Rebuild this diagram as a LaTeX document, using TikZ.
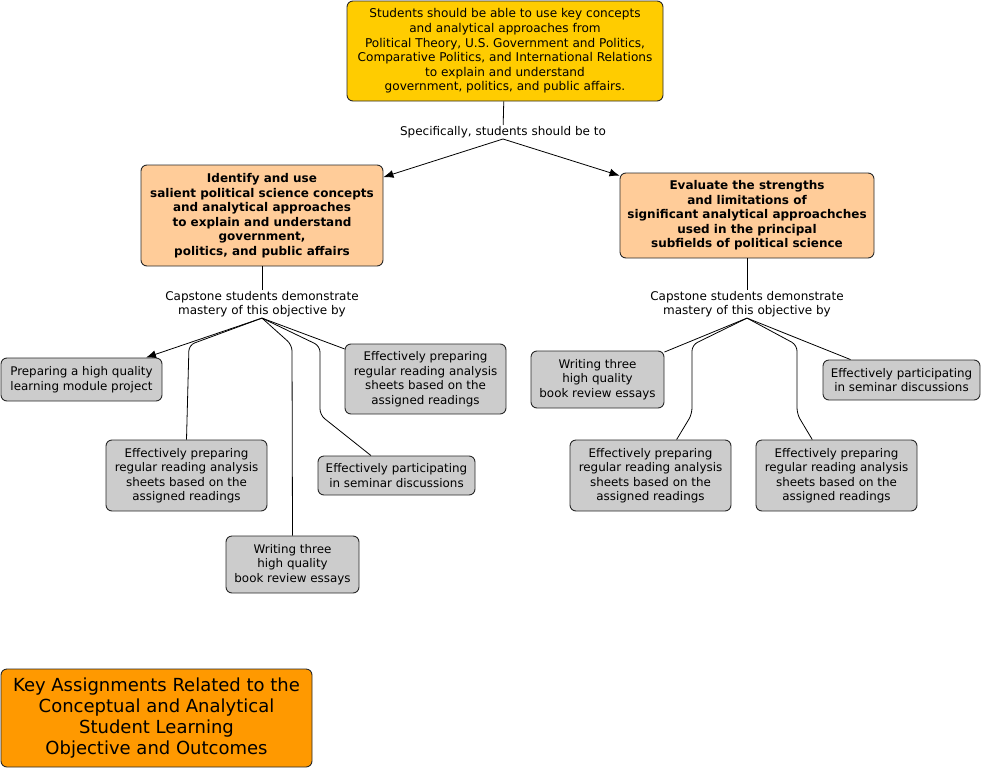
\documentclass[tikz,border=0pt]{standalone}
\usepackage{fontspec}
\setmainfont{DejaVu Sans}
\usetikzlibrary{arrows.meta,positioning}
\definecolor{goldbox}{RGB}{255,204,0}
\definecolor{peachbox}{RGB}{255,204,153}
\definecolor{graybox}{RGB}{204,204,204}
\definecolor{orangebox}{RGB}{255,153,0}
\definecolor{edgegray}{RGB}{40,40,40}
\tikzset{
  concept/.style={rectangle, rounded corners=6pt, draw=edgegray, line width=0.9pt,
                  align=center, inner sep=2pt, font=\fontsize{11.9}{14.5}\selectfont},
  goalbox/.style={concept, fill=goldbox, font=\fontsize{12.1}{14.6}\selectfont},
  objbox/.style={concept, fill=peachbox, font=\fontsize{12}{14.5}\selectfont\bfseries},
  taskbox/.style={concept, fill=graybox},
  keybox/.style={concept, fill=orangebox, font=\fontsize{18}{21.3}\selectfont},
  phrase/.style={align=center, inner sep=1pt, font=\fontsize{12}{14.2}\selectfont},
  link/.style={draw=black, line width=0.8pt},
  linkarrow/.style={link, -{Latex[length=10pt, width=8pt]}},
}

\begin{document}
\begin{tikzpicture}[x=1pt, y=-1pt]
\useasboundingbox (0,0) rectangle (982,771);

% top outcome
\node[goalbox, minimum width=316pt, minimum height=100pt] (goal) at (505,51)
  {Students should be able to use key concepts\\ and analytical approaches from\\
   Political Theory, U.S. Government and Politics,\\
   Comparative Politics, and International Relations\\
   to explain and understand\\ government, politics, and public affairs.};
\node[phrase] (spec) at (503,132) {Specifically, students should be to};

% objectives
\node[objbox, minimum width=242pt, minimum height=101pt] (objL) at (262,215.5)
  {Identify and use\\ salient political science concepts\\ and analytical approaches\\
   to explain and understand\\ government,\\ politics, and public affairs};
\node[objbox, minimum width=254pt, minimum height=85pt] (objR) at (747,215.5)
  {Evaluate the strengths\\ and limitations of\\ significant analytical approachches\\
   used in the principal\\ subfields of political science};

\node[phrase] (capL) at (262,304) {Capstone students demonstrate\\ mastery of this objective by};
\node[phrase] (capR) at (747,304) {Capstone students demonstrate\\ mastery of this objective by};

% assignments, left
\node[taskbox, minimum width=161pt, minimum height=43pt] (prepL) at (81.5,379.5)
  {Preparing a high quality\\ learning module project};
\node[taskbox, minimum width=161pt, minimum height=70pt] (readLa) at (425.5,379)
  {Effectively preparing\\ regular reading analysis\\ sheets based on the\\ assigned readings};
\node[taskbox, minimum width=161pt, minimum height=71pt] (readLb) at (186.5,475.5)
  {Effectively preparing\\ regular reading analysis\\ sheets based on the\\ assigned readings};
\node[taskbox, minimum width=157pt, minimum height=39pt] (semL) at (396.5,475.5)
  {Effectively participating\\ in seminar discussions};
\node[taskbox, minimum width=133pt, minimum height=57pt] (writeL) at (292.5,564.5)
  {Writing three\\ high quality\\ book review essays};

% assignments, right
\node[taskbox, minimum width=133pt, minimum height=57pt] (writeR) at (597.5,379.5)
  {Writing three\\ high quality\\ book review essays};
\node[taskbox, minimum width=157pt, minimum height=40pt] (semR) at (901.5,380)
  {Effectively participating\\ in seminar discussions};
\node[taskbox, minimum width=161pt, minimum height=71pt] (readRa) at (650.5,475.5)
  {Effectively preparing\\ regular reading analysis\\ sheets based on the\\ assigned readings};
\node[taskbox, minimum width=161pt, minimum height=71pt] (readRb) at (836.5,475.5)
  {Effectively preparing\\ regular reading analysis\\ sheets based on the\\ assigned readings};

% legend
\node[keybox, minimum width=311pt, minimum height=98pt] (key) at (156.5,718)
  {Key Assignments Related to the\\ Conceptual and Analytical\\ Student Learning\\ Objective and Outcomes};

% links
\draw[link] (goal) -- (spec);
\draw[linkarrow] (spec.south) -- (objL);
\draw[linkarrow] (spec.south) -- (objR);
\draw[link] (objL) -- (capL);
\draw[link] (objR) -- (capR);

\draw[linkarrow] (capL.south) -- (prepL);
\draw[link] (capL.south) -- (readLa);
\draw[link, rounded corners=6pt] (capL.south) -- (189,345) -- (readLb.north);
\draw[link, rounded corners=6pt] (capL.south) -- (292,345) -- (writeL.north);
\draw[link, rounded corners=6pt] (capL.south) -- (320,346) -- (320,415) -- (semL.142);

\draw[link] (capR.south) -- (writeR);
\draw[link] (capR.south) -- (semR);
\draw[link, rounded corners=6pt] (capR.south) -- (692,345) -- (692,414) -- (readRa.54);
\draw[link, rounded corners=6pt] (capR.south) -- (797,345) -- (797,414) -- (readRb.124);
\end{tikzpicture}
\end{document}
